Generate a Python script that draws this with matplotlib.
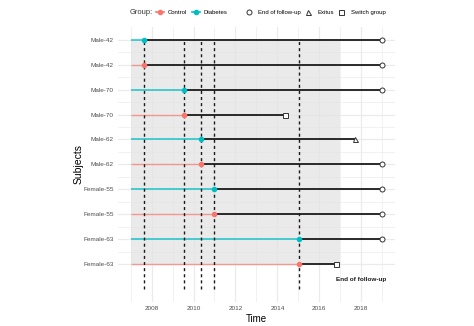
import numpy as np
import matplotlib.pyplot as plt
from matplotlib.lines import Line2D

plt.rcParams['font.family'] = ['Liberation Sans', 'DejaVu Sans']

# data (top row first)
subjects = ['Male-42', 'Male-42', 'Male-70', 'Male-70', 'Male-62', 'Male-62',
            'Female-55', 'Female-55', 'Female-63', 'Female-63']
groups = ['Diabetes', 'Control'] * 5
t_start = 2007.0
t_index = [2007.63, 2007.63, 2009.56, 2009.56, 2010.34, 2010.34,
           2010.96, 2010.96, 2015.03, 2015.03]
t_end = [2019.0, 2019.0, 2019.0, 2014.35, 2017.68, 2019.0,
         2019.0, 2019.0, 2019.0, 2016.8]
events = ['End of follow-up', 'End of follow-up', 'End of follow-up', 'Switch group',
          'Exitus', 'End of follow-up', 'End of follow-up', 'End of follow-up',
          'End of follow-up', 'Switch group']
window = (2007, 2017)

colors = {'Control': '#F8766D', 'Diabetes': '#00BFC4'}
shapes = {'End of follow-up': 'o', 'Exitus': '^', 'Switch group': 's'}

fig = plt.figure(figsize=(4.74, 3.26), dpi=100)
ax = fig.add_axes([0.249, 0.074, 0.584, 0.843])

n = len(subjects)
ypos = np.arange(n, 0, -1)

# grid (theme_minimal look)
for x in range(2007, 2020):
    ax.axvline(x, color='#EBEBEB', lw=0.9 if x % 2 == 0 else 0.5, zorder=0)
for y in np.arange(1, n + 1):
    ax.axhline(y, color='#EBEBEB', lw=0.9, zorder=0)
for y in np.arange(1.5, n, 1.0):
    ax.axhline(y, color='#EBEBEB', lw=0.5, zorder=0)

ax.fill_between(window, 1, n, color='#E3E3E3', alpha=0.75, lw=0, zorder=1)

for i in range(n):
    y = ypos[i]
    c = colors[groups[i]]
    ax.plot([t_start, t_index[i]], [y, y], color=c, lw=1.4 if groups[i] == 'Diabetes' else 1.0,
            alpha=0.7, zorder=2, solid_capstyle='butt')
    ax.plot([t_index[i], t_end[i]], [y, y], color='#1a1a1a', lw=1.3, zorder=3,
            solid_capstyle='butt')
    ax.plot(t_index[i], y, marker='o', ms=3, color=c, mec=c, zorder=4)
    ax.plot(t_end[i], y, marker=shapes[events[i]], ms=3.6, mfc='white', mec='#333333',
            mew=0.7, zorder=5)

for t in sorted(set(t_index)):
    ax.plot([t, t], [0, n], color='#1a1a1a', lw=1.0, ls=(0, (2.2, 2.2)), zorder=3)

ax.text(2018, 0.4, 'End of follow-up', fontsize=4.6, fontweight='bold',
        ha='center', va='center', color='#1a1a1a')

ax.set_xlim(2006.4, 2019.6)
ax.set_ylim(-0.5, n + 0.5)
ax.set_xticks(range(2008, 2020, 2))
ax.set_yticks(ypos)
ax.set_yticklabels(subjects)
ax.tick_params(length=0, labelsize=4.6, labelcolor='#4D4D4D', pad=3)
for s in ax.spines.values():
    s.set_visible(False)
ax.set_xlabel('Time', fontsize=7, labelpad=2)
ax.set_ylabel('Subjects', fontsize=7.5, labelpad=0)

# legend
fig.text(0.274, 0.963, 'Group:', fontsize=5.4, ha='left', va='center', color='#333333')
h_group = [Line2D([], [], color=colors[g], lw=1.2, marker='o', ms=3) for g in ['Control', 'Diabetes']]
lg1 = fig.legend(h_group, ['Control', 'Diabetes'], ncol=2, frameon=False, fontsize=4.3,
                 loc='center left', bbox_to_anchor=(0.329, 0.963), handlelength=1.3,
                 handletextpad=0.67, columnspacing=0.85, borderaxespad=0, borderpad=0)
h_shape = [Line2D([], [], ls='none', marker=shapes[k], ms=3.6, mfc='white', mec='#333333', mew=0.7)
           for k in shapes]
lg2 = fig.legend(h_shape, list(shapes), ncol=3, frameon=False, fontsize=4.3,
                 loc='center left', bbox_to_anchor=(0.520, 0.963), handlelength=0.8,
                 handletextpad=1.2, columnspacing=0.75, borderaxespad=0, borderpad=0)

fig.savefig('out.png', dpi=100)
